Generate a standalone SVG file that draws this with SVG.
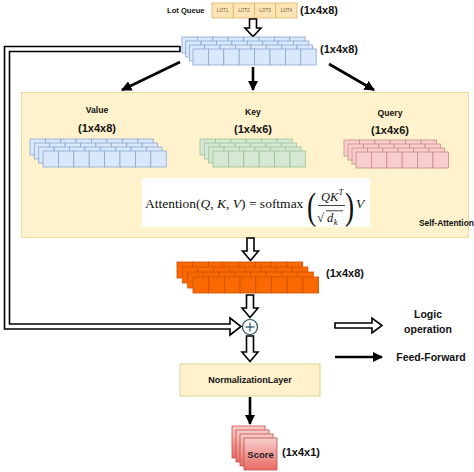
<svg xmlns="http://www.w3.org/2000/svg" width="474" height="472" viewBox="0 0 474 472">
<style>
.b{font-family:"Liberation Sans",Arial,sans-serif;font-weight:bold;fill:#111}
.m{font-family:"Liberation Serif","Times New Roman",serif;fill:#111}
.i{font-style:italic}
.blue rect{fill:#dae8fc;stroke:#8aa6cf;stroke-width:0.8}
.green rect{fill:#d5e8d4;stroke:#9cc094;stroke-width:0.8}
.red rect{fill:#f8cecc;stroke:#c98a88;stroke-width:0.8}
.orange rect{fill:#fa6800;stroke:#cc5000;stroke-width:0.8}
.hollow{fill:#fff;stroke:#000;stroke-width:1.6;stroke-linejoin:miter}
.ff{stroke:#000;stroke-width:2.6;fill:none;marker-end:url(#ah)}
.lot rect{fill:#fde4b4;stroke:#dcb26a;stroke-width:0.8}
.lot text{font-family:"Liberation Sans",Arial,sans-serif;font-size:4.6px;fill:#6a5a40;text-anchor:middle}
.card rect{fill:url(#sg);stroke:#c0504d;stroke-width:0.8}
.card text{font-family:"Liberation Sans",Arial,sans-serif;font-weight:bold;font-size:9.5px;fill:#222;text-anchor:middle}
</style>
<defs>
<marker id="ah" viewBox="0 0 10 10" refX="9" refY="5" markerWidth="4" markerHeight="4" orient="auto" markerUnits="strokeWidth">
<path d="M0,0 L10,5 L0,10 z" fill="#000"/>
</marker>
<linearGradient id="sg" x1="0" y1="0" x2="0" y2="1">
<stop offset="0" stop-color="#f8cecc"/>
<stop offset="1" stop-color="#ea6b66"/>
</linearGradient>
<clipPath id="c1"><rect x="232" y="426" width="4" height="32"/></clipPath>
<clipPath id="c2"><rect x="236" y="430" width="4" height="32"/></clipPath>
<clipPath id="c3"><rect x="240" y="434" width="4" height="32"/></clipPath>
<g id="rowB8" class="blue">
<rect x="0" y="0" width="15.4" height="16"/><rect x="15.4" y="0" width="15.4" height="16"/><rect x="30.8" y="0" width="15.4" height="16"/><rect x="46.2" y="0" width="15.4" height="16"/><rect x="61.6" y="0" width="15.4" height="16"/><rect x="77" y="0" width="15.4" height="16"/><rect x="92.4" y="0" width="15.4" height="16"/><rect x="107.8" y="0" width="15.4" height="16"/>
</g>
<g id="rowG6" class="green">
<rect x="0" y="0" width="15.4" height="16"/><rect x="15.4" y="0" width="15.4" height="16"/><rect x="30.8" y="0" width="15.4" height="16"/><rect x="46.2" y="0" width="15.4" height="16"/><rect x="61.6" y="0" width="15.4" height="16"/><rect x="77" y="0" width="15.4" height="16"/>
</g>
<g id="rowR6" class="red">
<rect x="0" y="0" width="15.4" height="16"/><rect x="15.4" y="0" width="15.4" height="16"/><rect x="30.8" y="0" width="15.4" height="16"/><rect x="46.2" y="0" width="15.4" height="16"/><rect x="61.6" y="0" width="15.4" height="16"/><rect x="77" y="0" width="15.4" height="16"/>
</g>
<g id="rowO8" class="orange">
<rect x="0" y="0" width="15.7" height="16"/><rect x="15.7" y="0" width="15.7" height="16"/><rect x="31.4" y="0" width="15.7" height="16"/><rect x="47.1" y="0" width="15.7" height="16"/><rect x="62.8" y="0" width="15.7" height="16"/><rect x="78.5" y="0" width="15.7" height="16"/><rect x="94.2" y="0" width="15.7" height="16"/><rect x="109.9" y="0" width="15.7" height="16"/>
</g>
</defs>

<rect width="474" height="472" fill="#fff"/>

<g id="self-attention">
<rect x="21.5" y="92.5" width="447" height="145" fill="#fff2cc" stroke="#eedb9f" stroke-width="1"/>
<text class="b" x="419" y="226" font-size="8.4">Self-Attention</text>
</g>

<g id="lot-queue">
<text class="b" x="167" y="13" font-size="7.6">Lot Queue</text>
<g class="lot">
<rect x="212" y="3" width="21.25" height="15"/><rect x="233.25" y="3" width="21.25" height="15"/><rect x="254.5" y="3" width="21.25" height="15"/><rect x="275.75" y="3" width="21.25" height="15"/>
<text x="222.6" y="12">LOT1</text><text x="243.9" y="12">LOT2</text><text x="265.1" y="12">LOT3</text><text x="286.4" y="12">LOT4</text>
</g>
<text class="b" x="300" y="14" font-size="11">(1x4x8)</text>
</g>

<g id="connectors">
<polygon class="hollow" points="249.5,19 256.5,19 256.5,28 261,28 253,36.5 245,28 249.5,28"/>
<polygon class="hollow" points="180,46.5 4.5,46.5 4.5,329 230,329 230,335 241,326.5 230,318 230,324 9.5,324 9.5,51.5 180,51.5"/>
<line class="ff" x1="180" y1="62" x2="122" y2="90"/>
<line class="ff" x1="253" y1="67" x2="253" y2="90"/>
<line class="ff" x1="329" y1="64" x2="374" y2="90"/>
<polygon class="hollow" points="247,238 254,238 254,251 258.5,251 250.5,260.5 242.5,251 247,251"/>
<polygon class="hollow" points="246.5,295 253.5,295 253.5,308 258,308 250,317.5 242,308 246.5,308"/>
<polygon class="hollow" points="246.5,336 253.5,336 253.5,352 258,352 250,361.5 242,352 246.5,352"/>
<line class="ff" x1="250" y1="397" x2="250" y2="424"/>
</g>

<g id="input-tensor">
<use href="#rowB8" x="182" y="37"/><use href="#rowB8" x="185.7" y="41"/><use href="#rowB8" x="189.3" y="45"/><use href="#rowB8" x="193" y="49"/>
<text class="b" x="320" y="53" font-size="11">(1x4x8)</text>
</g>

<g id="value">
<text class="b" x="97" y="113" font-size="8.6" text-anchor="middle">Value</text>
<text class="b" x="97" y="132" font-size="11" text-anchor="middle">(1x4x8)</text>
<use href="#rowB8" x="30" y="139"/><use href="#rowB8" x="34.3" y="143"/><use href="#rowB8" x="38.7" y="147"/><use href="#rowB8" x="43" y="151"/>
</g>

<g id="key">
<text class="b" x="253" y="115" font-size="8.6" text-anchor="middle">Key</text>
<text class="b" x="253" y="133" font-size="11" text-anchor="middle">(1x4x6)</text>
<use href="#rowG6" x="200" y="139"/><use href="#rowG6" x="204.3" y="143"/><use href="#rowG6" x="208.7" y="147"/><use href="#rowG6" x="213" y="151"/>
</g>

<g id="query">
<text class="b" x="390" y="116" font-size="8.6" text-anchor="middle">Query</text>
<text class="b" x="390" y="134" font-size="11" text-anchor="middle">(1x4x6)</text>
<use href="#rowR6" x="344" y="140"/><use href="#rowR6" x="348" y="144"/><use href="#rowR6" x="352" y="148"/><use href="#rowR6" x="356" y="152"/>
</g>

<g id="formula">
<rect x="142" y="178" width="228" height="49" fill="#fff"/>
<text class="m" x="145" y="208" font-size="13.5">Attention(<tspan class="i">Q</tspan>, <tspan class="i">K</tspan>, <tspan class="i">V</tspan>) = softmax</text>
<text class="m" x="307" y="219" font-size="38" transform="translate(307,219) scale(0.72,1) translate(-307,-219)">(</text>
<text class="m i" x="321" y="201" font-size="12.5">QK</text>
<text class="m i" x="338.5" y="195" font-size="8.5">T</text>
<line x1="318" y1="205.5" x2="345" y2="205.5" stroke="#111" stroke-width="0.8"/>
<text class="m" x="317" y="222" font-size="13">√</text>
<line x1="326" y1="210.8" x2="343" y2="210.8" stroke="#111" stroke-width="0.8"/>
<text class="m i" x="327" y="222" font-size="12.5">d</text>
<text class="m i" x="333.8" y="224.5" font-size="8.5">k</text>
<text class="m" x="345" y="219" font-size="38" transform="translate(345,219) scale(0.72,1) translate(-345,-219)">)</text>
<text class="m i" x="356" y="208" font-size="13.5">V</text>
</g>

<g id="output-tensor">
<use href="#rowO8" x="177" y="262"/><use href="#rowO8" x="182.3" y="267"/><use href="#rowO8" x="187.7" y="272"/><use href="#rowO8" x="193" y="277"/>
<text class="b" x="326" y="277" font-size="11">(1x4x8)</text>
</g>

<g id="add">
<circle cx="250" cy="327" r="7.5" fill="#fff" stroke="#1f4e5f" stroke-width="1.2"/>
<line x1="245.5" y1="327" x2="254.5" y2="327" stroke="#1f4e5f" stroke-width="1.2"/>
<line x1="250" y1="322.5" x2="250" y2="331.5" stroke="#1f4e5f" stroke-width="1.2"/>
</g>

<g id="norm">
<rect x="180" y="364" width="140" height="32" fill="#fff2cc" stroke="#e2cf94" stroke-width="1"/>
<text class="b" x="250" y="383" font-size="9" text-anchor="middle">NormalizationLayer</text>
</g>

<g id="score">
<g class="card"><rect x="232" y="426" width="33" height="32"/><text x="248.5" y="446" clip-path="url(#c1)">Score</text></g>
<g class="card"><rect x="236" y="430" width="33" height="32"/><text x="252.5" y="450" clip-path="url(#c2)">Score</text></g>
<g class="card"><rect x="240" y="434" width="33" height="32"/><text x="256.5" y="454" clip-path="url(#c3)">Score</text></g>
<g class="card"><rect x="244" y="438" width="33" height="32"/><text x="260.5" y="458">Score</text></g>
<text class="b" x="282" y="456" font-size="11">(1x4x1)</text>
</g>

<g id="legend">
<polygon class="hollow" points="335,323 372,323 372,318 382,325.5 372,333 372,328 335,328"/>
<text class="b" x="428" y="318" font-size="10.5" text-anchor="middle">Logic</text>
<text class="b" x="428" y="333" font-size="10.5" text-anchor="middle">operation</text>
<line class="ff" x1="335" y1="357" x2="382" y2="357"/>
<text class="b" x="431" y="361" font-size="10.5" text-anchor="middle">Feed-Forward</text>
</g>
</svg>
